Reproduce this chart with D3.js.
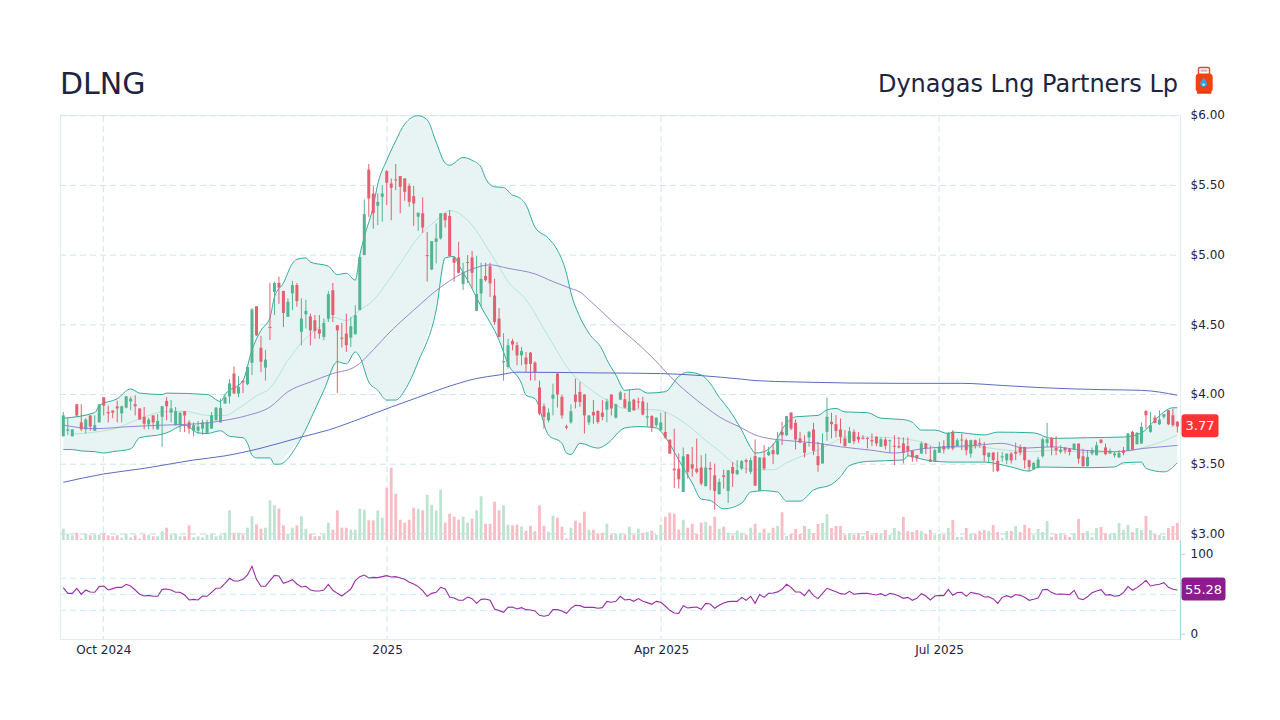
<!DOCTYPE html>
<html><head><meta charset="utf-8">
<script src="https://cdn.jsdelivr.net/npm/d3@7"></script>
<style>html,body{margin:0;padding:0;background:#fff}svg{display:block;font-family:"DejaVu Sans",sans-serif}</style>
</head><body><svg id="c" width="1280" height="720"></svg>
<script>
const symbol="DLNG", company="Dynagas Lng Partners Lp";
const priceTicks=[6,5.5,5,4.5,4,3.5,3];
const rsiTicks=[100,0], rsiLevels=[70,50,30];
const timeLabels=["Oct 2024","2025","Apr 2025","Jul 2025"];
const timeTickAt=[8.9,72.06,133.06,194.95];
const lastPrice=3.77, lastRsi=55.28;

const opens=[3.70,3.74,3.70,3.93,3.80,3.75,3.85,3.74,3.80,3.98,
3.875,3.885,3.915,3.865,3.906,3.95,3.93,3.90,3.84,3.785,
3.85,3.75,3.84,3.954,3.87,3.78,3.78,3.88,3.80,3.74,
3.74,3.755,3.725,3.755,3.815,3.80,3.935,3.987,4.15,4.007,
4.098,4.074,4.227,4.633,4.335,4.193,4.485,4.736,4.80,4.743,
4.557,4.725,4.785,4.45,4.576,4.56,4.533,4.468,4.413,4.545,
4.748,4.497,4.408,4.437,4.408,4.432,4.605,5.0,5.614,5.442,
5.354,5.418,5.602,5.514,5.543,5.567,5.55,5.497,5.423,5.275,
5.30,5.0,4.897,5.095,5.12,5.30,5.28,4.983,4.983,4.792,
4.95,4.983,4.60,4.725,4.85,4.92,4.71,4.545,4.23,4.198,
4.384,4.353,4.281,4.265,4.30,4.229,4.05,3.916,3.815,3.97,
4.15,3.983,3.772,3.80,4.0,4.018,4.0,3.80,3.875,3.882,
3.87,3.892,4.0,3.834,3.963,3.966,3.875,3.963,3.95,3.95,
3.834,3.846,3.78,3.743,3.731,3.676,3.468,3.468,3.301,3.571,
3.50,3.468,3.476,3.342,3.473,3.42,3.284,3.42,3.308,3.48,
3.429,3.469,3.529,3.445,3.558,3.309,3.548,3.565,3.601,3.572,
3.732,3.708,3.871,3.797,3.685,3.653,3.692,3.749,3.558,3.505,
3.732,3.804,3.787,3.749,3.685,3.653,3.732,3.696,3.689,3.689,
3.673,3.696,3.625,3.677,3.667,3.632,3.63,3.649,3.63,3.596,
3.565,3.577,3.649,3.534,3.517,3.582,3.63,3.613,3.732,3.63,
3.677,3.672,3.576,3.672,3.653,3.631,3.552,3.583,3.524,3.548,
3.528,3.576,3.588,3.624,3.624,3.528,3.462,3.474,3.557,3.653,
3.689,3.617,3.588,3.617,3.608,3.605,3.648,3.557,3.486,3.576,
3.564,3.677,3.62,3.576,3.564,3.548,3.60,3.60,3.732,3.643,
3.648,3.882,3.732,3.835,3.787,3.84,3.887,3.851,3.804];
const closes=[3.85,3.75,3.75,3.85,3.75,3.82,3.77,3.78,3.93,3.92,
3.865,3.87,3.90,3.915,3.987,3.97,3.916,3.82,3.79,3.82,
3.80,3.81,3.916,3.916,3.90,3.88,3.87,3.85,3.755,3.78,
3.77,3.80,3.80,3.85,3.905,3.905,3.98,4.08,4.007,4.055,
4.088,4.198,4.61,4.425,4.235,4.25,4.478,4.80,4.767,4.585,
4.665,4.785,4.67,4.545,4.60,4.46,4.456,4.437,4.513,4.72,
4.57,4.46,4.40,4.353,4.49,4.569,4.987,5.294,5.406,5.30,
5.382,5.442,5.519,5.483,5.538,5.49,5.454,5.382,5.37,5.304,
5.198,4.995,5.10,5.12,5.30,5.25,4.993,4.945,4.873,4.88,
4.945,4.873,4.72,4.83,4.82,4.797,4.52,4.413,4.24,4.353,
4.358,4.28,4.312,4.217,4.22,4.162,3.863,3.84,3.87,4.0,
4.0,3.85,3.763,3.88,3.947,3.947,3.85,3.85,3.85,3.803,
3.84,3.95,3.90,3.93,4.016,3.906,3.95,3.887,3.944,3.856,
3.844,3.767,3.834,3.80,3.69,3.576,3.456,3.392,3.557,3.445,
3.468,3.445,3.361,3.476,3.461,3.308,3.373,3.408,3.457,3.433,
3.458,3.522,3.517,3.529,3.347,3.548,3.469,3.589,3.572,3.668,
3.708,3.845,3.756,3.677,3.656,3.582,3.732,3.596,3.493,3.649,
3.84,3.787,3.739,3.696,3.63,3.737,3.665,3.677,3.682,3.682,
3.663,3.649,3.68,3.632,3.672,3.625,3.62,3.582,3.596,3.548,
3.541,3.649,3.613,3.517,3.601,3.625,3.606,3.725,3.613,3.672,
3.672,3.60,3.672,3.636,3.643,3.564,3.583,3.529,3.452,3.557,
3.576,3.528,3.576,3.583,3.528,3.481,3.509,3.533,3.679,3.679,
3.62,3.60,3.605,3.60,3.588,3.648,3.54,3.486,3.552,3.60,
3.636,3.653,3.572,3.596,3.576,3.581,3.581,3.72,3.605,3.725,
3.768,3.851,3.78,3.796,3.82,3.859,3.787,3.78,3.77];
const highs=[3.875,3.83,3.75,3.93,3.93,3.83,3.85,3.85,3.93,3.98,
3.92,3.885,3.955,3.92,3.987,3.985,3.995,3.90,3.91,3.835,
3.85,3.86,3.916,3.98,3.96,3.91,3.87,3.88,3.815,3.80,
3.81,3.82,3.82,3.875,3.91,3.97,4.0,4.11,4.20,4.13,
4.10,4.21,4.62,4.633,4.42,4.32,4.80,4.81,4.845,4.743,
4.69,4.815,4.80,4.69,4.68,4.58,4.57,4.57,4.545,4.743,
4.80,4.497,4.514,4.58,4.557,4.64,5.0,5.399,5.653,5.495,
5.442,5.502,5.61,5.55,5.653,5.567,5.55,5.514,5.497,5.304,
5.413,5.167,5.10,5.227,5.30,5.304,5.323,4.988,5.095,4.945,
5.0,5.03,4.995,4.945,4.945,4.945,4.83,4.62,4.44,4.40,
4.40,4.377,4.341,4.305,4.305,4.238,4.10,3.935,3.90,4.078,
4.155,4.0,3.784,3.93,4.114,4.09,4.0,3.85,3.96,3.887,
3.96,3.97,4.0,3.935,4.026,4.011,4.035,3.97,3.978,3.983,
3.942,3.851,3.834,3.87,3.875,3.676,3.755,3.576,3.62,3.571,
3.624,3.684,3.564,3.576,3.516,3.504,3.397,3.461,3.457,3.516,
3.529,3.529,3.541,3.548,3.677,3.548,3.637,3.625,3.649,3.732,
3.804,3.845,3.871,3.821,3.732,3.708,3.739,3.797,3.661,3.72,
3.979,3.869,3.852,3.828,3.744,3.768,3.749,3.732,3.708,3.692,
3.72,3.701,3.692,3.692,3.677,3.708,3.696,3.692,3.692,3.601,
3.565,3.661,3.653,3.63,3.613,3.661,3.672,3.732,3.744,3.685,
3.72,3.684,3.677,3.677,3.684,3.66,3.583,3.588,3.588,3.588,
3.576,3.588,3.655,3.641,3.624,3.533,3.517,3.552,3.691,3.796,
3.696,3.701,3.636,3.624,3.617,3.648,3.648,3.612,3.60,3.62,
3.66,3.677,3.648,3.612,3.588,3.60,3.624,3.725,3.739,3.732,
3.80,3.887,3.875,3.851,3.887,3.859,3.887,3.899,3.81];
const lows=[3.70,3.71,3.70,3.84,3.74,3.72,3.74,3.74,3.80,3.85,
3.80,3.83,3.80,3.80,3.90,3.887,3.85,3.82,3.75,3.75,
3.75,3.75,3.624,3.815,3.80,3.78,3.73,3.73,3.72,3.70,
3.715,3.71,3.725,3.755,3.815,3.80,3.935,3.935,4.007,3.98,
4.01,4.067,4.14,4.42,4.16,4.10,4.39,4.57,4.65,4.485,
4.557,4.605,4.63,4.353,4.473,4.353,4.40,4.40,4.39,4.52,
4.52,4.012,4.337,4.306,4.34,4.432,4.605,5.0,5.275,5.19,
5.215,5.24,5.358,5.25,5.466,5.30,5.39,5.347,5.21,5.174,
5.16,4.81,4.892,4.94,5.112,5.198,4.988,4.81,4.868,4.75,
4.80,4.76,4.60,4.63,4.81,4.70,4.50,4.41,4.10,4.186,
4.317,4.21,4.21,4.162,4.10,4.10,3.85,3.755,3.80,3.85,
3.906,3.827,3.75,3.79,3.90,3.911,3.72,3.78,3.79,3.79,
3.815,3.80,3.85,3.827,3.96,3.90,3.875,3.882,3.90,3.85,
3.767,3.732,3.767,3.743,3.683,3.576,3.33,3.325,3.301,3.397,
3.41,3.433,3.349,3.342,3.313,3.174,3.284,3.325,3.222,3.337,
3.421,3.457,3.434,3.429,3.343,3.309,3.457,3.558,3.5,3.565,
3.637,3.701,3.744,3.606,3.649,3.548,3.625,3.565,3.445,3.505,
3.668,3.685,3.692,3.649,3.625,3.653,3.644,3.653,3.677,3.613,
3.63,3.63,3.625,3.606,3.577,3.493,3.613,3.505,3.558,3.517,
3.517,3.572,3.572,3.517,3.517,3.582,3.577,3.605,3.60,3.63,
3.60,3.564,3.548,3.612,3.62,3.517,3.517,3.445,3.445,3.517,
3.50,3.505,3.528,3.564,3.469,3.452,3.457,3.469,3.548,3.624,
3.564,3.564,3.576,3.576,3.564,3.60,3.505,3.481,3.481,3.564,
3.564,3.648,3.564,3.576,3.548,3.548,3.564,3.60,3.60,3.643,
3.648,3.756,3.725,3.792,3.78,3.827,3.78,3.768,3.727];
const volumes=[113,63,47,73,13,63,47,53,53,73,
47,37,47,23,63,27,47,13,53,53,
37,37,87,123,53,63,37,37,147,27,
37,27,53,63,37,47,73,297,73,73,
53,123,237,157,113,123,397,347,313,147,
63,123,147,237,113,63,37,37,53,173,
103,297,123,123,103,103,313,303,197,197,
297,223,523,723,463,203,173,203,323,313,
297,453,353,297,503,173,263,233,203,233,
173,213,297,437,163,163,383,297,347,153,
147,153,133,93,143,87,347,143,83,243,
223,133,13,123,193,173,283,103,103,67,
73,163,53,63,63,53,133,53,113,73,
83,93,53,153,233,273,263,103,203,123,
163,63,173,183,143,233,113,133,73,47,
93,73,53,123,163,73,113,73,123,140,
277,40,60,110,60,140,110,70,160,170,
260,120,140,140,50,70,50,70,40,90,
50,70,60,100,50,120,90,230,90,80,
100,90,60,100,50,60,50,120,200,30,
30,120,60,60,90,100,90,150,80,20,
90,90,140,80,150,120,50,110,80,190,
30,60,70,50,30,70,210,70,90,30,
120,130,70,60,70,170,100,150,80,120,
100,240,100,60,50,40,120,140,170];
const volumeGreenDays=[46,81,90,128,178,185,186,200,212,236];
const rsi=[58.3,51.2,51.2,57.5,50,55.4,52.9,52.5,59.6,60.4,
55.4,57.1,58.7,58.7,62.5,60.4,55.4,50,47.9,48.7,
47.5,47.5,56.2,56.6,55.4,52.5,52.5,49.2,42.9,43.7,
42.9,47.9,47.5,52.5,57.5,57.9,63.7,70,66.6,66.6,
68.7,74.1,85,68.7,60,60,67,73.7,72.9,63.7,
65.8,68.3,62.9,59.2,60,55.4,54.2,54.2,55.4,62.5,
55,51.2,47.9,52.1,56.6,67,72,74.1,70.4,71.2,
70.8,72.1,73.3,71.6,72.1,70.4,68.7,65,62.9,59.6,
54.6,47.5,51.2,52.5,58.7,56.6,46.6,45.4,42.5,42.5,
46.6,44.6,38.7,43.7,44.1,42.5,31.6,29.6,27.5,33.7,
34.2,31.6,33.3,30.8,30.4,29.2,23.7,22.5,23.7,30.8,
30.8,29.2,26.2,32.5,36.2,35.8,33.7,33.7,33.7,32.5,
33.3,41.2,40,41.2,47.5,42.9,43.7,41.2,44.6,41.2,
39.6,37.5,41.2,40,35.4,30,26.6,26.2,35.8,32.9,
33.7,34.2,31.2,38.7,37.9,32.5,36.2,39.2,40.8,41.2,
41.2,46.2,42.5,47.5,38.7,49.6,46.2,51.2,51.6,53,
56.2,62.5,58.7,52.9,52.9,48.3,55.4,48.3,44.6,51.2,
57.5,55.4,53.3,50.8,50,53.7,50,50.8,51.2,51.2,
50,49.2,50.8,47.9,51.2,50,47.9,45,46.2,42.5,
45,50.8,47.9,42.9,47.9,48.7,48.3,56.2,48.7,52.1,
52.5,47.5,52.5,51.2,50,46.6,47,44.2,38.7,46.2,
48.3,46.2,49.6,48.7,46.2,42.5,43.7,45.4,55.8,56.2,
52.1,50,50.4,50,49.6,55,44.6,43.3,47,52.1,
54.2,55.8,49.2,49.6,47.5,48.3,52.1,59.6,55,58.3,
62.5,67.5,60.4,61.7,62.5,64.6,58.7,56.2,55.28];

const upperDays=[0,7,8,12,15,17,22,23,32,35,36,40,42,44,46,47,49,51,52,54,55,59,61,63,65,66,67,69,70,72,74,76,79,81,83,85,86,89,91,93,94,96,98,100,101,103,105,108,110,112,113,115,117,120,121,123,125,128,130,134,137,139,142,144,146,148,151,153,154,156,158,161,163,168,170,172,174,179,182,187,189,191,194,197,198,205,208,216,220,228,236,240,243,245,247,248];
const upperBand=[3.83,3.87,3.92,3.97,4.04,4.01,4.00,4.01,4.00,3.95,4.00,4.10,4.32,4.46,4.55,4.70,4.80,4.94,4.97,4.98,4.95,4.92,4.86,4.87,4.82,5.0,5.13,5.35,5.51,5.68,5.82,5.94,6.0,5.97,5.81,5.66,5.645,5.70,5.68,5.63,5.55,5.49,5.485,5.43,5.42,5.36,5.20,5.12,5.035,4.87,4.73,4.555,4.44,4.32,4.25,4.14,4.03,4.04,4.01,4.02,4.13,4.16,4.14,4.08,3.98,3.90,3.745,3.62,3.58,3.59,3.64,3.795,3.84,3.85,3.89,3.90,3.875,3.87,3.83,3.82,3.80,3.745,3.745,3.72,3.73,3.71,3.73,3.725,3.685,3.69,3.695,3.725,3.815,3.875,3.905,3.905];
const lowerDays=[0,2,4,7,9,11,15,17,22,23,27,30,32,35,37,40,41,42,43,46,47,48,53,56,58,61,63,65,66,68,70,72,74,76,79,83,85,87,88,90,93,97,99,102,103,105,108,111,112,113,115,119,121,125,128,132,134,137,140,142,144,147,151,153,156,159,161,164,167,171,173,175,179,187,188,192,198,205,211,215,217,228,234,236,240,241,245,248];
const lowerBand=[3.605,3.605,3.595,3.59,3.58,3.59,3.61,3.69,3.715,3.725,3.78,3.725,3.72,3.74,3.70,3.69,3.65,3.565,3.545,3.545,3.50,3.50,3.69,3.89,4.03,4.235,4.22,4.305,4.27,4.09,4.03,3.96,3.96,4.03,4.235,4.605,4.98,4.99,4.93,4.82,4.63,4.39,4.22,4.08,3.995,3.97,3.71,3.65,3.58,3.57,3.65,3.615,3.645,3.76,3.77,3.76,3.695,3.53,3.365,3.25,3.24,3.18,3.22,3.30,3.31,3.30,3.235,3.235,3.315,3.355,3.41,3.49,3.52,3.53,3.56,3.53,3.515,3.515,3.48,3.45,3.48,3.475,3.48,3.51,3.515,3.47,3.445,3.51];
const midDays=[2,7,12,15,19,22,27,32,36,39,43,46,50,53,57,60,63,66,69,72,75,78,84,86,91,94,97,99,103,108,113,117,121,125,132,139,143,146,150,154,158,161,165,168,171,174,180,186,191,195,203,210,216,220,228,236,241,246,248];
const midBand=[3.715,3.73,3.76,3.80,3.85,3.875,3.88,3.85,3.85,3.90,3.99,4.045,4.245,4.37,4.485,4.555,4.53,4.605,4.675,4.80,4.94,5.085,5.275,5.32,5.215,5.07,4.915,4.81,4.68,4.415,4.16,4.045,3.96,3.90,3.89,3.78,3.67,3.595,3.49,3.46,3.46,3.51,3.565,3.60,3.65,3.695,3.695,3.685,3.66,3.615,3.625,3.60,3.59,3.60,3.585,3.59,3.625,3.68,3.71];
const sma50Days=[0,7,15,22,30,35,41,46,50,55,60,65,69,72,78,84,91,95,99,105,109,113,115,117,122,131,136,143,146,151,154,158,161,168,173,180,185,191,200,203,209,214,220,227,234,241,248];
const sma50=[3.78,3.755,3.77,3.78,3.79,3.81,3.85,3.91,4.02,4.09,4.15,4.20,4.32,4.425,4.605,4.77,4.90,4.93,4.905,4.865,4.81,4.76,4.735,4.68,4.53,4.27,4.10,3.91,3.84,3.76,3.71,3.68,3.67,3.65,3.625,3.60,3.58,3.61,3.63,3.635,3.65,3.615,3.625,3.60,3.59,3.615,3.635];
const sma200Days=[0,9,18,29,36,44,53,59,66,73,79,86,92,97,101,119,133,151,154,163,186,200,209,217,231,240,248];
const sma200=[3.37,3.43,3.47,3.53,3.56,3.615,3.695,3.745,3.825,3.91,3.98,4.06,4.115,4.14,4.16,4.155,4.15,4.11,4.10,4.09,4.08,4.08,4.065,4.05,4.035,4.03,3.995];

const upColor="#54b492", downColor="#e2606f";
const x=d3.scaleLinear().domain([0,248]).range([63.3,1177.4]);
const y=d3.scaleLinear().domain([3,6]).range([533.9,115.7]);
const yVol=d3.scaleLinear().domain([0,730]).range([540,467]);
const yRsi=d3.scaleLinear().domain([0,100]).range([634.3,554.3]);
const svg=d3.select("#c");
const ink="#1c2440", gridCol="#cfe4ea", rsiGrid="#c6eefa";

svg.append("defs").append("clipPath").attr("id","pane").append("rect").attr("x",60).attr("y",115).attr("width",1120).attr("height",425);

/* titles */
svg.append("text").attr("x",60).attr("y",94).attr("font-size",30).attr("fill",ink).text(symbol);
svg.append("text").attr("x",1178).attr("y",91.5).attr("text-anchor","end").attr("font-size",24).attr("fill",ink).text(company);

/* icon */
const ic=svg.append("g");
ic.append("rect").attr("x",1198.5).attr("y",67.5).attr("width",11).attr("height",8).attr("rx",1.5).attr("fill","none").attr("stroke","#d9482a").attr("stroke-width",1.4);
ic.append("rect").attr("x",1200.5).attr("y",69.6).attr("width",7).attr("height",2).attr("fill","#e9a999");
ic.append("rect").attr("x",1195.7).attr("y",73.5).attr("width",17).attr("height",18.5).attr("rx",3.5).attr("fill","#f4420f");
ic.append("rect").attr("x",1197).attr("y",91.5).attr("width",14.4).attr("height",2.2).attr("fill","#d63c10");
ic.append("path").attr("d","M1203.6,77.5C1205,80 1207,81.5 1207,84C1207,86 1205.5,87 1203.6,87C1201.7,87 1200.2,86 1200.2,84C1200.2,81.5 1202.6,80 1203.6,77.5Z").attr("fill","#29a9ea");
ic.append("circle").attr("cx",1203.6).attr("cy",84.6).attr("r",1.2).attr("fill","#dff3fd");

/* frame */
const frame="#dfeef2";
svg.append("path").attr("d","M60.5,640V115.5H1180.5V540").attr("fill","none").attr("stroke",frame);
svg.append("line").attr("x1",60).attr("x2",1180).attr("y1",639.5).attr("y2",639.5).attr("stroke",frame);
svg.append("line").attr("x1",1180.5).attr("x2",1180.5).attr("y1",540).attr("y2",640).attr("stroke","#a9d5e0");
rsiTicks.forEach(v=>svg.append("line").attr("x1",1180).attr("x2",1185).attr("y1",yRsi(v)).attr("y2",yRsi(v)).attr("stroke","#a9d5e0"));

/* grid */
const dash="6 4";
const grid=svg.append("g").attr("fill","none").attr("stroke",gridCol).attr("stroke-dasharray",dash);
priceTicks.forEach(v=>grid.append("line").attr("x1",60).attr("x2",1180).attr("y1",y(v)).attr("y2",y(v)));
timeTickAt.forEach(t=>grid.append("line").attr("x1",x(t)).attr("x2",x(t)).attr("y1",116).attr("y2",639));
rsiLevels.forEach(v=>svg.append("line").attr("x1",60).attr("x2",1180).attr("y1",yRsi(v)).attr("y2",yRsi(v)).attr("stroke",rsiGrid).attr("stroke-dasharray",dash));

const pane=svg.append("g").attr("clip-path","url(#pane)");

/* Bollinger fill and lines */
const pts=(ds,vs)=>ds.map((d,i)=>[d,vs[i]]);
const line=d3.line().x(d=>x(d[0])).y(d=>y(d[1])).curve(d3.curveMonotoneX);
const upperPts=pts(upperDays,upperBand), lowerPts=pts(lowerDays,lowerBand);
const area=d3.line().x(d=>x(d[0])).y(d=>y(d[1]));
pane.append("path").attr("d",area(upperPts.concat(lowerPts.slice().reverse()))+"Z").attr("fill","#e8f4f3");
pane.append("path").attr("d",line(upperPts)).attr("fill","none").attr("stroke","#33ab9d").attr("stroke-width",1);
pane.append("path").attr("d",line(lowerPts)).attr("fill","none").attr("stroke","#33ab9d").attr("stroke-width",1);
pane.append("path").attr("d",line(pts(midDays,midBand))).attr("fill","none").attr("stroke","#b4e4da").attr("stroke-width",1);

/* volume */
pane.append("g").selectAll("rect").data(volumes).join("rect")
 .attr("x",(d,i)=>x(i)-1.4).attr("width",2.8).attr("y",d=>yVol(d)).attr("height",d=>540-yVol(d))
 .attr("fill",(d,i)=>(closes[i]>opens[i]||volumeGreenDays.includes(i))?"#bde4d1":"#f9bcc4");
/* the $3 grid line shows over the volume bars */
svg.append("line").attr("x1",60).attr("x2",1180).attr("y1",y(3)).attr("y2",y(3)).attr("stroke",gridCol).attr("stroke-dasharray",dash).attr("opacity",.8);

/* candles */
const cg=pane.append("g");
const col=i=>closes[i]>opens[i]?upColor:downColor;
cg.selectAll("line").data(d3.range(opens.length)).join("line")
 .attr("x1",i=>x(i)).attr("x2",i=>x(i)).attr("y1",i=>y(highs[i])).attr("y2",i=>y(lows[i]))
 .attr("stroke",col).attr("stroke-width",1);
cg.selectAll("rect").data(d3.range(opens.length)).join("rect")
 .attr("x",i=>x(i)-1.5).attr("width",3)
 .attr("y",i=>y(Math.max(opens[i],closes[i])))
 .attr("height",i=>Math.max(1,Math.abs(y(opens[i])-y(closes[i]))))
 .attr("fill",col);

/* moving averages */
pane.append("path").attr("d",line(pts(sma50Days,sma50))).attr("fill","none").attr("stroke","#8b7cc9").attr("stroke-width",.9);
pane.append("path").attr("d",line(pts(sma200Days,sma200))).attr("fill","none").attr("stroke","#5a6cc0").attr("stroke-width",1);

/* RSI */
const rsiLine=d3.line().x((d,i)=>x(i)).y(d=>yRsi(d));
svg.append("path").attr("d",rsiLine(rsi)).attr("fill","none").attr("stroke","#9a2ea6").attr("stroke-width",1.1);

/* axes */
const pa=svg.append("g").attr("transform","translate(1180,-0.6)").call(d3.axisRight(y).tickValues(priceTicks).tickSize(0).tickPadding(11).tickFormat(d=>"$"+d.toFixed(2)));
pa.select(".domain").remove();
const ra=svg.append("g").attr("transform","translate(1180,-1)").call(d3.axisRight(yRsi).tickValues(rsiTicks).tickSize(0).tickPadding(11));
ra.select(".domain").remove();
const ta=svg.append("g").attr("transform","translate(0,640)").call(d3.axisBottom(x).tickValues(timeTickAt).tickSize(0).tickPadding(5).tickFormat((d,i)=>timeLabels[i]));
ta.select(".domain").remove();
svg.selectAll(".tick text").attr("font-size",12).attr("font-family",'"DejaVu Sans",sans-serif').attr("fill",ink);
pa.selectAll(".tick text").attr("x",10.6);
ra.selectAll(".tick text").attr("x",10.6);

/* last-value tags */
function tag(yPos,w,fill,label){
 svg.append("rect").attr("x",1181.5).attr("y",yPos-11.5).attr("width",w).attr("height",23).attr("rx",3).attr("fill",fill);
 svg.append("text").attr("x",1181.5+w/2).attr("y",yPos+4.5).attr("text-anchor","middle").attr("font-size",13).attr("fill","#fff").text(label);
}
tag(425.8,37,"#ff3333",lastPrice.toFixed(2));
tag(589,44,"#8e1a90",lastRsi.toFixed(2));
</script></body></html>
